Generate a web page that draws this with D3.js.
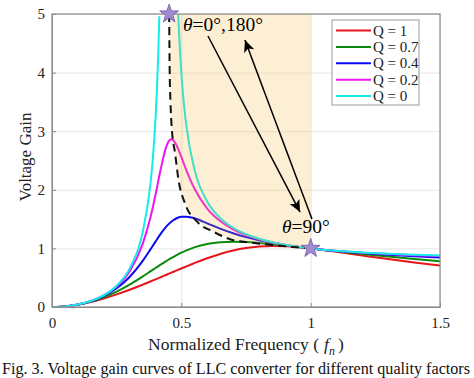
<!DOCTYPE html>
<html>
<head>
<meta charset="utf-8">
<script src="https://cdn.jsdelivr.net/npm/d3@7"></script>
<style>
  body { margin: 0; background: #fff; }
  svg { display: block; }
  text { font-family: "Liberation Serif", "Times New Roman", serif; }
</style>
</head>
<body>
<svg id="chart" width="474" height="378"></svg>
<script>
// normalized frequency samples shared by the damped curves
const freq = [0, 0.05, 0.1, 0.15, 0.2, 0.25, 0.3, 0.35, 0.38, 0.4, 0.42, 0.44, 0.45, 0.46, 0.47, 0.48,
  0.5, 0.52, 0.54, 0.55, 0.6, 0.65, 0.7, 0.75, 0.8, 0.85, 0.9, 0.95, 1.0, 1.1, 1.2, 1.3, 1.4, 1.5];

const gainQ1 = [0, 0.0099, 0.0389, 0.0846, 0.1443, 0.215, 0.2944, 0.3804, 0.4343, 0.471, 0.5081, 0.5455,
  0.5642, 0.583, 0.6017, 0.6204, 0.6576, 0.6943, 0.7303, 0.7479, 0.8315, 0.9044, 0.9631, 1.0054, 1.0309,
  1.0405, 1.0365, 1.0221, 1.0, 0.9428, 0.8794, 0.8175, 0.7603, 0.709];
const gainQ07 = [0, 0.01, 0.0404, 0.092, 0.166, 0.263, 0.3823, 0.5195, 0.6068, 0.6654, 0.7232, 0.7791,
  0.806, 0.8322, 0.8574, 0.8815, 0.9265, 0.9665, 1.0013, 1.0167, 1.0745, 1.1042, 1.1129, 1.1073, 1.0926,
  1.0725, 1.0494, 1.025, 1.0, 0.9507, 0.9037, 0.8598, 0.8191, 0.7815];
const gainQ04 = [0, 0.0101, 0.0415, 0.098, 0.1867, 0.3192, 0.5126, 0.783, 0.979, 1.1158, 1.2469, 1.3619,
  1.4103, 1.4514, 1.4847, 1.5101, 1.5385, 1.5414, 1.5258, 1.5132, 1.4276, 1.3367, 1.2577, 1.1924, 1.1389,
  1.0949, 1.058, 1.0268, 1.0, 0.9559, 0.9205, 0.891, 0.8654, 0.8427];
const gainQ02 = [0, 0.0101, 0.042, 0.1005, 0.1964, 0.3508, 0.6083, 1.0679, 1.5172, 1.9102, 2.3454, 2.711,
  2.8186, 2.8607, 2.8409, 2.7732, 2.5608, 2.3271, 2.1175, 2.0256, 1.6804, 1.4666, 1.3262, 1.2286, 1.1573,
  1.1033, 1.0612, 1.0275, 1.0, 0.9578, 0.9269, 0.9032, 0.8843, 0.8688];

// undamped curve (Q = 0), split at the resonance where it leaves the axes
const freqQ0Low = [0, 0.05, 0.1, 0.15, 0.2, 0.25, 0.3, 0.35, 0.38, 0.39, 0.4, 0.405, 0.41, 0.415];
const gainQ0Low = [0, 0.0101, 0.0421, 0.1014, 0.2, 0.3636, 0.6545, 1.2645, 2.0777, 2.54, 3.2, 3.6475, 4.216, 4.96];
const freqQ0High = [0.488, 0.49, 0.5, 0.51, 0.52, 0.55, 0.6, 0.65, 0.7, 0.75, 0.8, 0.85, 0.9, 0.95, 1.0,
  1.1, 1.2, 1.3, 1.4, 1.5];
const gainQ0High = [5.0, 4.79, 4.0, 3.462, 3.073, 2.361, 1.8, 1.519, 1.352, 1.2414, 1.1636, 1.1062, 1.0623,
  1.0278, 1.0, 0.9584, 0.929, 0.9074, 0.8909, 0.878];

// dashed boundary (theta = 0 / 180 locus)
const locusFreq = [0.453, 0.455, 0.458, 0.463, 0.476, 0.489, 0.514, 0.56, 0.624, 0.701, 0.766, 0.85, 0.93, 1.0];
const locusGain = [5.0, 4.0, 3.5, 3.05, 2.62, 2.17, 1.77, 1.46, 1.285, 1.14, 1.1, 1.06, 1.025, 1.0];

const seriesNames = ["Q = 1", "Q = 0.7", "Q = 0.4", "Q = 0.2", "Q = 0"];
const seriesColors = ["#e8141c", "#0a8a0a", "#0a0af0", "#f014f0", "#14ecec"];

const xTicks = [0, 0.5, 1, 1.5];
const yTicks = [0, 1, 2, 3, 4, 5];

const starPoints = [[0.453, 5], [1, 1]];
const labelTop = { text: "0°,180°", f: 0.506, g: 4.71 };
const labelMid = { text: "90°", f: 0.889, g: 1.263 };
const arrows = [
  { from: [0.603, 4.625], to: [0.959, 1.62] },
  { from: [1.005, 1.5], to: [0.746, 4.556] }
];

const svg = d3.select("#chart");
const mLeft = 52, mRight = 440, mTop = 14, mBottom = 307;

const x = d3.scaleLinear().domain([0, 1.5]).range([mLeft, mRight]);
const y = d3.scaleLinear().domain([0, 5]).range([mBottom, mTop]);

const defs = svg.append("defs");
defs.append("clipPath").attr("id", "plot")
  .append("rect").attr("x", mLeft).attr("y", mTop)
  .attr("width", mRight - mLeft).attr("height", mBottom - mTop);

defs.append("marker")
  .attr("id", "head")
  .attr("viewBox", "0 0 10 10")
  .attr("refX", 10).attr("refY", 5)
  .attr("markerWidth", 12).attr("markerHeight", 12)
  .attr("markerUnits", "userSpaceOnUse")
  .attr("orient", "auto")
  .append("path").attr("d", "M0,0.5 L10,5 L0,9.5 L2.5,5 Z").attr("fill", "#000");

// grid
svg.append("g")
  .attr("transform", `translate(0,${mBottom})`)
  .call(d3.axisBottom(x).tickValues(xTicks).tickSize(-(mBottom - mTop)).tickFormat(""))
  .call(g => g.select(".domain").remove())
  .call(g => g.selectAll("line").attr("stroke", "#e6e6e6"));
svg.append("g")
  .attr("transform", `translate(${mLeft},0)`)
  .call(d3.axisLeft(y).tickValues(yTicks).tickSize(-(mRight - mLeft)).tickFormat(""))
  .call(g => g.select(".domain").remove())
  .call(g => g.selectAll("line").attr("stroke", "#e6e6e6"));

const plot = svg.append("g").attr("clip-path", "url(#plot)");

const line = d3.line()
  .x(d => x(d[0]))
  .y(d => y(d[1]))
  .curve(d3.curveMonotoneX);

const damped = [gainQ1, gainQ07, gainQ04, gainQ02];
damped.forEach((vals, i) => {
  plot.append("path")
    .datum(freq.map((f, k) => [f, vals[k]]))
    .attr("d", line)
    .attr("fill", "none")
    .attr("stroke", seriesColors[i])
    .attr("stroke-width", 2);
});

[[freqQ0Low, gainQ0Low], [freqQ0High, gainQ0High]].forEach(([fs, gs]) => {
  plot.append("path")
    .datum(fs.map((f, k) => [f, gs[k]]))
    .attr("d", line)
    .attr("fill", "none")
    .attr("stroke", seriesColors[4])
    .attr("stroke-width", 2);
});

const locus = locusFreq.map((f, k) => [f, locusGain[k]]);

// shaded operating region between the locus and the top, up to fn = 1
const shade = locus.concat([[1, 5], [locusFreq[0], 5]]);
plot.append("path")
  .datum(shade)
  .attr("d", d3.line().x(d => x(d[0])).y(d => y(d[1])))
  .attr("fill", "#f5ae2a")
  .attr("fill-opacity", 0.2);

plot.append("path")
  .datum(locus)
  .attr("d", line)
  .attr("fill", "none")
  .attr("stroke", "#111")
  .attr("stroke-width", 2)
  .attr("stroke-dasharray", "8,5");

// axes box
const axisColor = "#8a8a8a";
svg.append("rect")
  .attr("x", mLeft).attr("y", mTop)
  .attr("width", mRight - mLeft).attr("height", mBottom - mTop)
  .attr("fill", "none").attr("stroke", axisColor).attr("stroke-width", 1.2);

const xAxis = svg.append("g")
  .attr("transform", `translate(0,${mBottom})`)
  .call(d3.axisBottom(x).tickValues(xTicks).tickSizeInner(-4).tickSizeOuter(0).tickPadding(10)
    .tickFormat(d3.format("")));
const yAxis = svg.append("g")
  .attr("transform", `translate(${mLeft},0)`)
  .call(d3.axisLeft(y).tickValues(yTicks).tickSizeInner(-4).tickSizeOuter(0).tickPadding(7)
    .tickFormat(d3.format("d")));
[xAxis, yAxis].forEach(g => {
  g.select(".domain").attr("stroke", axisColor);
  g.selectAll(".tick line").attr("stroke", axisColor);
  g.selectAll(".tick text")
    .attr("font-family", "Liberation Serif, serif")
    .attr("font-size", 15)
    .attr("fill", "#222");
});

// stars
svg.selectAll(".star")
  .data(starPoints)
  .join("path")
  .attr("class", "star")
  .attr("transform", d => `translate(${x(d[0])},${y(d[1])})`)
  .attr("d", d3.symbol(d3.symbolStar, 110))
  .attr("fill", "#a08bd0")
  .attr("stroke", "#8068b0")
  .attr("stroke-width", 1);

// arrows
svg.selectAll(".arrow")
  .data(arrows)
  .join("line")
  .attr("x1", d => x(d.from[0])).attr("y1", d => y(d.from[1]))
  .attr("x2", d => x(d.to[0])).attr("y2", d => y(d.to[1]))
  .attr("stroke", "#000")
  .attr("stroke-width", 1.5)
  .attr("marker-end", "url(#head)");

[labelTop, labelMid].forEach(l => {
  const t = svg.append("text")
    .attr("x", x(l.f)).attr("y", y(l.g))
    .attr("font-size", 19.5)
    .attr("fill", "#000");
  t.append("tspan").attr("font-style", "italic").text("θ");
  t.append("tspan").text("=" + l.text);
});

// legend
const legend = svg.append("g").attr("transform", "translate(332,20)");
legend.append("rect")
  .attr("width", 87).attr("height", 85)
  .attr("fill", "#fff").attr("stroke", "#9a9a9a").attr("stroke-width", 1);
seriesNames.forEach((name, i) => {
  const row = legend.append("g").attr("transform", `translate(0,${10.5 + i * 16.4})`);
  row.append("line")
    .attr("x1", 4).attr("x2", 39)
    .attr("stroke", seriesColors[i]).attr("stroke-width", 2);
  row.append("text")
    .attr("x", 41).attr("y", 5)
    .attr("font-size", 15)
    .attr("fill", "#222")
    .text(name);
});

// axis titles
svg.append("text")
  .attr("transform", `translate(31,157) rotate(-90)`)
  .attr("text-anchor", "middle")
  .attr("font-size", 17)
  .attr("fill", "#222")
  .text("Voltage Gain");

const xt = svg.append("text")
  .attr("x", 148).attr("y", 350)
  .attr("font-size", 17.5)
  .attr("fill", "#222");
xt.append("tspan").text("Normalized Frequency (");
xt.append("tspan").attr("font-style", "italic").attr("dx", 5).text("f");
xt.append("tspan").attr("font-style", "italic").attr("font-size", 12).attr("dy", 5).text("n");
xt.append("tspan").attr("dy", -5).attr("dx", 3).text(")");

svg.append("text")
  .attr("x", 2).attr("y", 374)
  .attr("font-size", 16)
  .attr("fill", "#111")
  .attr("textLength", 468)
  .attr("lengthAdjust", "spacingAndGlyphs")
  .text("Fig. 3. Voltage gain curves of LLC converter for different quality factors");
</script>
</body>
</html>
